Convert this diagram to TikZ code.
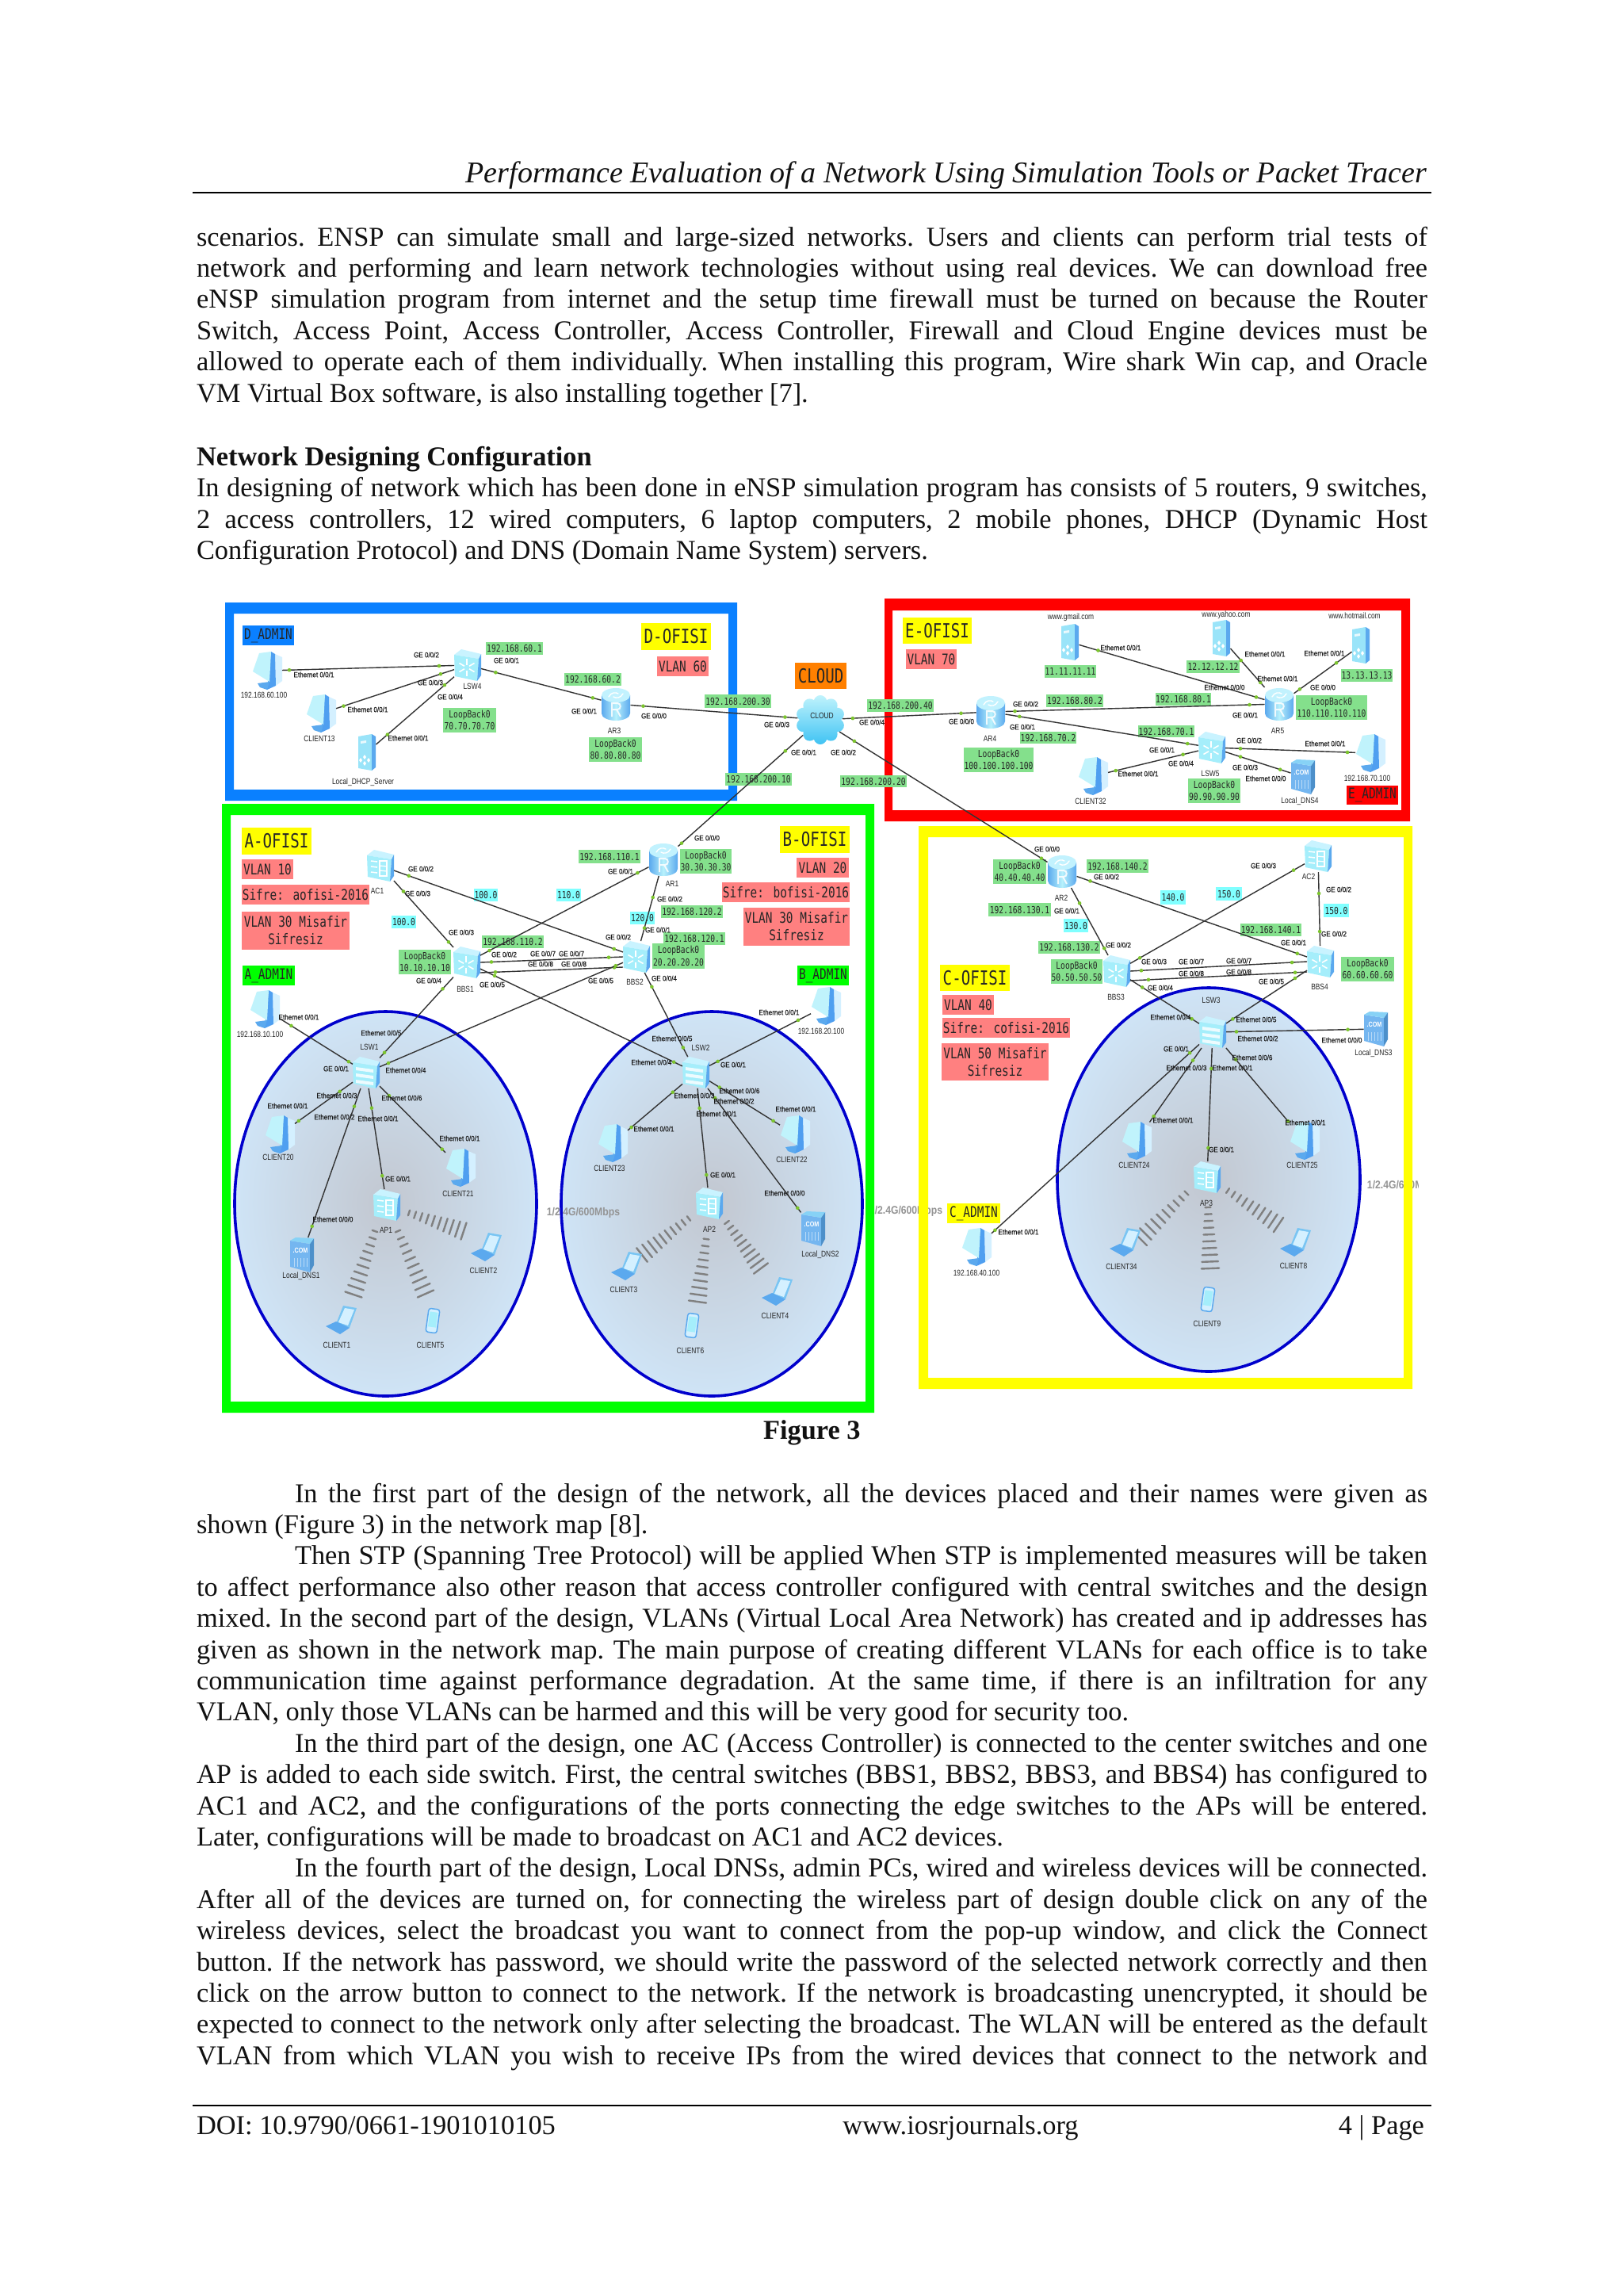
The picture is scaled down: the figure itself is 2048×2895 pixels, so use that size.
\documentclass[tikz,border=0pt]{standalone}
\usepackage{fontspec}
\usetikzlibrary{calc,shapes.symbols}
\setmainfont{Liberation Serif}
\newfontfamily\monof[FakeStretch=0.78]{DejaVu Sans Mono}
\newfontfamily\portf[FakeStretch=0.88,FakeBold=0.25]{Liberation Sans}
\newfontfamily\devf[FakeStretch=0.8]{Liberation Sans}
\newfontfamily\grayf[FakeStretch=0.87]{Liberation Sans}
\definecolor{inktext}{HTML}{111111}
\definecolor{fblue}{HTML}{0A80FF}
\definecolor{fred}{HTML}{FF0000}
\definecolor{fgreen}{HTML}{00FF00}
\definecolor{fyellow}{HTML}{FFFF00}
\definecolor{bgreen}{HTML}{84E08C}
\definecolor{bsalmon}{HTML}{FF8080}
\definecolor{bcyan}{HTML}{80FFFF}
\definecolor{borange}{HTML}{FF8000}
\definecolor{lightface}{HTML}{C9F3FF}
\definecolor{frontface}{HTML}{A5EEFB}
\definecolor{sideface}{HTML}{5BA9EE}
\definecolor{darkblue}{HTML}{4F9FF0}
\definecolor{paleface}{HTML}{D4F0FF}
\definecolor{linkc}{HTML}{333333}
\definecolor{dotc}{HTML}{7CC42E}
\definecolor{ellin}{HTML}{C2C7D0}
\definecolor{ellout}{HTML}{CFE4F6}
\newcommand\smallbox{\monof\fontsize{12.35}{15.5}\selectfont}
\newcommand\midbox{\monof\fontsize{18.5}{22}\selectfont}
\newcommand\bigbox{\monof\fontsize{24.5}{28}\selectfont}
\tikzset{
 bodytext/.style={inner sep=0pt,outer sep=0pt,anchor=base west,text=inktext,font=\fontsize{34.4}{39}\selectfont\frenchspacing},
 gbox/.style={fill=bgreen,inner sep=0pt,align=center,font=\smallbox,text=black!85},
 cbox/.style={fill=bcyan,inner sep=0pt,align=center,font=\smallbox,text=black!85},
 sbox/.style={fill=bsalmon,inner sep=0pt,align=center,font=\midbox,text=black!85},
 ybox/.style={fill=fyellow,inner sep=0pt,align=center,font=\bigbox,text=black!85},
 obox/.style={fill=borange,inner sep=0pt,align=center,font=\bigbox,text=black!85},
 abox/.style={inner sep=0pt,align=center,font=\midbox,text=black!85},
 portlabel/.style={inner sep=0pt,text=black!90,font=\portf\fontsize{9.2}{10}\selectfont},
 devlabel/.style={inner sep=0pt,text=black!85,font=\devf\fontsize{10.5}{11}\selectfont},
 speedlabel/.style={inner sep=0pt,text=black!42,font=\grayf\bfseries\fontsize{14}{15}\selectfont},
 iconbox/.style={inner sep=0pt,outer sep=0pt,draw=none,fill=none},
 link/.style={draw=linkc,line width=1.4pt},
 portdot/.style={fill=dotc},
 wifibar/.style={draw=black!50,line width=2.4pt,line cap=round},
 ring/.style={draw=blue!80!black,line width=3.6pt},
 ellfill/.style={inner color=ellin,outer color=ellout},
}
\newcounter{nn}
\newcommand\jl[3]{\stepcounter{nn}\pgfmathsetmacro\jw{1801-#1}\node[bodytext] (n\thenn) at (#1,#2) {\makebox[\jw pt][s]{#3}};}
\newcommand\pline[3]{\stepcounter{nn}\node[bodytext] (n\thenn) at (#1,#2) {#3};}
\newcommand\bx[6]{\stepcounter{nn}\pgfmathsetmacro\bw{#4-#2}\pgfmathsetmacro\bh{#5-#3}\pgfmathsetmacro\bcx{(#2+#4)/2}\pgfmathsetmacro\bcy{(#3+#5)/2}\node[#1,minimum width=\bw pt,minimum height=\bh pt] (n\thenn) at (\bcx,\bcy) {#6};}
\newcommand\portl[3]{\stepcounter{nn}\node[portlabel] (n\thenn) at (#1,#2) {#3};}
\newcommand\devl[3]{\stepcounter{nn}\node[devlabel] (n\thenn) at (#1,#2) {#3};}
\newcommand\lnk[4]{\draw[link] (#1) -- (#2) coordinate[pos=0] (ls) coordinate[pos=1] (le);
 \fill[portdot] ($(ls)!#3pt!(le)$) circle (2.3);
 \fill[portdot] ($(le)!#4pt!(ls)$) circle (2.3);}
\newcommand\wifibars[4]{\coordinate (wa) at (#1,#2);\coordinate (wb) at (#3,#4);\coordinate (wc) at ($(wa)!1.5!(wb)$);
 \foreach \i in {0,...,9}{\pgfmathsetmacro\wh{3.5+0.85*\i}\pgfmathsetmacro\wt{\i/9}
  \coordinate (wp) at ($(wa)!\wt!(wb)$);
  \draw[wifibar] ($(wp)!\wh pt!90:(wc)$) -- ($(wp)!\wh pt!-90:(wc)$);}}
% icons
\newcommand\pcicon[3]{\node[iconbox,minimum width=38pt,minimum height=47pt] (#1) at (#2,#3) {};
 \begin{scope}[shift={(#2,#3)}]
 \fill[paleface] (10,-21)--(19,-17)--(19,13)--(11,19)--cycle;
 \fill[darkblue] (5,-24)--(10,-21)--(11,19)--(0,24)--cycle;
 \fill[frontface!70!white] (-18,1)--(-10,-22)--(5,-24)--(3,14)--cycle;
 \fill[sideface] (-12,16)--(3,14)--(0,24)--(-9,21)--cycle;
 \end{scope}}
\newcommand\cubebase{\fill[lightface] (-17,-13)--(-8,-20)--(17,-14)--(14,-8)--cycle;
 \fill[frontface] (-17,-13)--(14,-8)--(12,20)--(-16,14)--cycle;
 \fill[sideface] (14,-8)--(17,-14)--(17,13)--(12,20)--cycle;}
\newcommand\swicon[3]{\node[iconbox,minimum width=34pt,minimum height=40pt] (#1) at (#2,#3) {};
 \begin{scope}[shift={(#2,#3)}]\cubebase
 \foreach \a in {30,90,150,210,270,330}{\draw[white,line width=1.6pt] ([shift={(\a:3.5pt)}]-1,3) -- ([shift={(\a:11pt)}]-1,3);}
 \end{scope}}
\newcommand\stackicon[3]{\node[iconbox,minimum width=34pt,minimum height=40pt] (#1) at (#2,#3) {};
 \begin{scope}[shift={(#2,#3)}]\cubebase
 \foreach \d in {0,8,16}{\fill[white,opacity=.8] (-13,-7+\d)--(9,-4+\d)--(9,0+\d)--(-13,-3+\d)--cycle;}
 \end{scope}}
\newcommand\acicon[3]{\node[iconbox,minimum width=34pt,minimum height=40pt] (#1) at (#2,#3) {};
 \begin{scope}[shift={(#2,#3)}]\cubebase
 \foreach \d in {-6,1,8}{\draw[white,line width=1.5pt] (-12,\d) -- (-4,\d+1);}
 \draw[white,line width=1.5pt] (-1,-6) rectangle (8,13);
 \draw[white,line width=1.2pt] (-1,0) -- (8,1) (-1,6) -- (8,7);
 \end{scope}}
\newcommand\routericon[3]{\node[iconbox,minimum width=37pt,minimum height=42pt] (#1) at (#2,#3) {};
 \begin{scope}[shift={(#2,#3)}]
 \shade[left color=sideface,right color=sideface,middle color=frontface!80!white] (-18,-11) -- (-18,12) arc[start angle=180,end angle=360,x radius=18pt,y radius=9pt] -- (18,-11) -- cycle;
 \fill[lightface!80!frontface] (0,-11) ellipse [x radius=18pt,y radius=9pt];
 \draw[white,line width=1.4pt,line cap=round] (-9,-9) .. controls (-6,-15) and (0,-15) .. (3,-13) (9,-13) .. controls (6,-7) and (0,-7) .. (-3,-9);
 \draw[white,line width=2pt,opacity=.85] (-5,16)--(-5,-1)--(2,-1) .. controls (7,-1) and (7,7) .. (2,7)--(-5,7) (1,7)--(6,16);
 \end{scope}}
\newcommand\servericon[3]{\node[iconbox,minimum width=23pt,minimum height=46pt] (#1) at (#2,#3) {};
 \begin{scope}[shift={(#2,#3)}]
 \fill[frontface!85!sideface] (-11,-20)--(6,-23)--(6,23)--(-11,20)--cycle;
 \fill[sideface] (6,-23)--(11,-20)--(11,19)--(6,23)--cycle;
 \fill[white,opacity=.8] (-8,-14)--(-1,-15)--(-1,-12)--(-8,-11)--cycle;
 \fill[white] (-3,3)--(-1,6)--(-3,9)--(-5,6)--cycle (-3,11)--(-1,14)--(-3,17)--(-5,14)--cycle (-8,7)--(-6,10)--(-8,13)--(-10,10)--cycle (2,7)--(4,10)--(2,13)--(0,10)--cycle;
 \end{scope}}
\newcommand\dnsicon[3]{\node[iconbox,minimum width=31pt,minimum height=44pt] (#1) at (#2,#3) {};
 \begin{scope}[shift={(#2,#3)}]
 \fill[sideface!85!white] (-15,-18)--(10,-14)--(10,22)--(-15,15)--cycle;
 \fill[sideface!85!black] (10,-14)--(15,-21)--(15,13)--(10,22)--cycle;
 \fill[frontface!60!sideface] (-15,-18)--(-8,-22)--(15,-21)--(10,-14)--cycle;
 \node[inner sep=0pt,text=white,font=\devf\bfseries\fontsize{9}{10}\selectfont] (#1com) at (-2,-6) {.COM};
 \foreach \d in {-10,-6,-2,2,6}{\draw[white,opacity=.5,line width=1pt] (\d,4) -- (\d,15);}
 \end{scope}}
\newcommand\laptopicon[3]{\node[iconbox,minimum width=40pt,minimum height=38pt] (#1) at (#2,#3) {};
 \begin{scope}[shift={(#2,#3)}]
 \fill[frontface!40!sideface] (3,-18)--(20,-15)--(11,10)--(-6,5)--cycle;
 \fill[paleface] (5,-15)--(17,-13)--(9,7)--(-3,3)--cycle;
 \fill[sideface] (-19,8)--(-6,2)--(11,10)--(-1,18)--cycle;
 \end{scope}}
\newcommand\phoneicon[3]{\node[iconbox,minimum width=17pt,minimum height=32pt] (#1) at (#2,#3) {};
 \begin{scope}[shift={(#2,#3)},rotate=-8]
 \draw[sideface,fill=paleface,line width=1.5pt,rounded corners=3pt] (-7,-15) rectangle (7,15);
 \fill[frontface] (-5,-11) rectangle (5,8);
 \end{scope}}
\begin{document}
\begin{tikzpicture}[x=1pt,y=-1pt]
\useasboundingbox (0,0) rectangle (2048,2895);
\fill[white] (0,0) rectangle (2048,2895);
% ---------- page text
\stepcounter{nn}\node[bodytext,anchor=base east,font=\fontsize{38}{41}\selectfont\itshape] (n\thenn) at (1800,231) {Performance Evaluation of a Network Using Simulation Tools or Packet Tracer};
\draw[line width=2pt,black] (243,243) -- (1806,243);
\jl{248}{310}{scenarios. ENSP can simulate small and large-sized networks. Users and clients can perform trial tests of}
\jl{248}{349.4}{network and performing and learn network technologies without using real devices. We can download free}
\jl{248}{388.8}{eNSP simulation program from internet and the setup time firewall must be turned on because the Router}
\jl{248}{428.2}{Switch, Access Point, Access Controller, Access Controller, Firewall and Cloud Engine devices must be}
\jl{248}{467.6}{allowed to operate each of them individually. When installing this program, Wire shark Win cap, and Oracle}
\pline{248}{507}{VM Virtual Box software, is also installing together [7].}
\pline{248}{587}{\bfseries Network Designing Configuration}
\jl{248}{626.6}{In designing of network which has been done in eNSP simulation program has consists of 5 routers, 9 switches,}
\jl{248}{666}{2 access controllers, 12 wired computers, 6 laptop computers, 2 mobile phones, DHCP (Dynamic Host}
\pline{248}{705.6}{Configuration Protocol) and DNS (Domain Name System) servers.}
\pline{963}{1815}{\bfseries Figure 3}
\jl{372}{1895}{In the first part of the design of the network, all the devices placed and their names were given as}
\pline{248}{1934.4}{shown (Figure 3) in the network map [8].}
\jl{372}{1973.8}{Then STP (Spanning Tree Protocol) will be applied When STP is implemented measures will be taken}
\jl{248}{2013.2}{to affect performance also other reason that access controller configured with central switches and the design}
\jl{248}{2052.6}{mixed. In the second part of the design, VLANs (Virtual Local Area Network) has created and ip addresses has}
\jl{248}{2092}{given as shown in the network map. The main purpose of creating different VLANs for each office is to take}
\jl{248}{2131.4}{communication time against performance degradation. At the same time, if there is an infiltration for any}
\pline{248}{2170.8}{VLAN, only those VLANs can be harmed and this will be very good for security too.}
\jl{372}{2210.2}{In the third part of the design, one AC (Access Controller) is connected to the center switches and one}
\jl{248}{2249.6}{AP is added to each side switch. First, the central switches (BBS1, BBS2, BBS3, and BBS4) has configured to}
\jl{248}{2289}{AC1 and AC2, and the configurations of the ports connecting the edge switches to the APs will be entered.}
\pline{248}{2328.4}{Later, configurations will be made to broadcast on AC1 and AC2 devices.}
\jl{372}{2367.8}{In the fourth part of the design, Local DNSs, admin PCs, wired and wireless devices will be connected.}
\jl{248}{2407.2}{After all of the devices are turned on, for connecting the wireless part of design double click on any of the}
\jl{248}{2446.6}{wireless devices, select the broadcast you want to connect from the pop-up window, and click the Connect}
\jl{248}{2486}{button. If the network has password, we should write the password of the selected network correctly and then}
\jl{248}{2525.4}{click on the arrow button to connect to the network. If the network is broadcasting unencrypted, it should be}
\jl{248}{2564.8}{expected to connect to the network only after selecting the broadcast. The WLAN will be entered as the default}
\jl{248}{2604.2}{VLAN from which VLAN you wish to receive IPs from the wired devices that connect to the network and}
\draw[line width=2pt,black] (243,2656) -- (1806,2656);
\pline{248}{2692}{DOI: 10.9790/0661-1901010105}
\stepcounter{nn}\node[bodytext,anchor=base] (n\thenn) at (1212,2692) {www.iosrjournals.org};
\stepcounter{nn}\node[bodytext,anchor=base east] (n\thenn) at (1797,2692) {4 | Page};
% ---------- speed labels (under the frames)
\stepcounter{nn}\node[speedlabel] (n\thenn) at (1143,1528) {1/2.4G/600Mbps};
\begin{scope}
\clip (1700,1480) rectangle (1789,1515);
\stepcounter{nn}\node[speedlabel] (n\thenn) at (1771,1496) {1/2.4G/600Mbps};
\end{scope}
% ---------- frames
\fill[fblue,even odd rule] (284,760) rectangle (930,1010) (295,774) rectangle (919,996);
\fill[fred,even odd rule] (1116,755) rectangle (1779,1036) (1126,770) rectangle (1768,1022);
\fill[fgreen,even odd rule] (280,1014) rectangle (1103,1782) (291,1028) rectangle (1092,1768);
\fill[fyellow,even odd rule] (1159,1042) rectangle (1782,1752) (1171,1056) rectangle (1771,1738);
% ---------- coverage ellipses
\shade[ellfill] (486.5,1518.5) ellipse [x radius=190.5pt,y radius=242.5pt];
\draw[ring] (486.5,1518.5) ellipse [x radius=190.5pt,y radius=242.5pt];
\shade[ellfill] (898,1518.5) ellipse [x radius=190pt,y radius=242.5pt];
\stepcounter{nn}\node[speedlabel] (n\thenn) at (736,1530) {1/2.4G/600Mbps};
\draw[ring] (898,1518.5) ellipse [x radius=190pt,y radius=242.5pt];
\shade[ellfill] (1525,1488) ellipse [x radius=191pt,y radius=242pt];
\draw[ring] (1525,1488) ellipse [x radius=191pt,y radius=242pt];
% ---------- coloured boxes
\bx{abox,fill=fblue}{306}{789}{371}{814}{D\_ADMIN}
\bx{ybox}{809}{786}{897}{820}{D-OFISI}
\bx{sbox}{829}{828}{894}{853}{VLAN 60}
\bx{gbox}{613}{810}{685}{826}{192.168.60.1}
\bx{gbox}{712}{849}{784}{865}{192.168.60.2}
\bx{gbox}{559}{893}{626}{924}{LoopBack0\\70.70.70.70}
\bx{gbox}{743}{930}{810}{961}{LoopBack0\\80.80.80.80}
\bx{gbox}{889}{876}{973}{893}{192.168.200.30}
\bx{obox}{1003}{836}{1068}{869}{CLOUD}
\bx{gbox}{1094}{882}{1178}{898}{192.168.200.40}
\bx{gbox}{915}{975}{999}{991}{192.168.200.10}
\bx{gbox}{1060}{978}{1144}{993}{192.168.200.20}
\bx{ybox}{1139}{779}{1226}{812}{E-OFISI}
\bx{sbox}{1143}{819}{1207}{844}{VLAN 70}
\bx{gbox}{1318}{839}{1383}{855}{11.11.11.11}
\bx{gbox}{1497}{833}{1564}{849}{12.12.12.12}
\bx{gbox}{1692}{844}{1757}{860}{13.13.13.13}
\bx{gbox}{1320}{876}{1392}{892}{192.168.80.2}
\bx{gbox}{1458}{874}{1528}{890}{192.168.80.1}
\bx{gbox}{1635}{877}{1725}{908}{LoopBack0\\110.110.110.110}
\bx{gbox}{1436}{915}{1507}{930}{192.168.70.1}
\bx{gbox}{1287}{923}{1358}{938}{192.168.70.2}
\bx{gbox}{1216}{943}{1304}{974}{LoopBack0\\100.100.100.100}
\bx{gbox}{1499}{982}{1565}{1013}{LoopBack0\\90.90.90.90}
\bx{abox,fill=fred}{1699}{991}{1764}{1015}{E\_ADMIN}
\bx{ybox}{305}{1044}{393}{1078}{A-OFISI}
\bx{sbox}{305}{1084}{370}{1109}{VLAN 10}
\bx{sbox}{305}{1116}{466}{1141}{Sifre: aofisi-2016}
\bx{sbox}{305}{1150}{441}{1198}{VLAN 30 Misafir\\Sifresiz}
\bx{abox,fill=fgreen}{306}{1218}{372}{1243}{A\_ADMIN}
\bx{ybox}{984}{1042}{1072}{1076}{B-OFISI}
\bx{sbox}{1005}{1082}{1071}{1107}{VLAN 20}
\bx{sbox}{911}{1113}{1072}{1138}{Sifre: bofisi-2016}
\bx{sbox}{938}{1145}{1072}{1193}{VLAN 30 Misafir\\Sifresiz}
\bx{abox,fill=fgreen}{1006}{1218}{1071}{1243}{B\_ADMIN}
\bx{gbox}{730}{1072}{808}{1089}{192.168.110.1}
\bx{gbox}{858}{1071}{923}{1102}{LoopBack0\\30.30.30.30}
\bx{gbox}{834}{1142}{912}{1158}{192.168.120.2}
\bx{gbox}{837}{1176}{915}{1192}{192.168.120.1}
\bx{gbox}{608}{1180}{686}{1196}{192.168.110.2}
\bx{gbox}{503}{1198}{569}{1229}{LoopBack0\\10.10.10.10}
\bx{gbox}{823}{1190}{889}{1222}{LoopBack0\\20.20.20.20}
\bx{cbox}{598}{1121}{628}{1137}{100.0}
\bx{cbox}{702}{1121}{733}{1137}{110.0}
\bx{cbox}{494}{1155}{525}{1171}{100.0}
\bx{cbox}{795}{1150}{826}{1166}{120.0}
\bx{gbox}{1253}{1084}{1320}{1115}{LoopBack0\\40.40.40.40}
\bx{gbox}{1371}{1084}{1449}{1101}{192.168.140.2}
\bx{gbox}{1247}{1139}{1326}{1156}{192.168.130.1}
\bx{cbox}{1464}{1123}{1496}{1141}{140.0}
\bx{cbox}{1534}{1119}{1567}{1136}{150.0}
\bx{cbox}{1670}{1140}{1702}{1157}{150.0}
\bx{cbox}{1342}{1159}{1373}{1176}{130.0}
\bx{gbox}{1565}{1165}{1642}{1181}{192.168.140.1}
\bx{gbox}{1310}{1187}{1388}{1203}{192.168.130.2}
\bx{gbox}{1326}{1210}{1391}{1241}{LoopBack0\\50.50.50.50}
\bx{gbox}{1692}{1207}{1759}{1238}{LoopBack0\\60.60.60.60}
\bx{ybox}{1186}{1217}{1274}{1250}{C-OFISI}
\bx{sbox}{1189}{1255}{1254}{1280}{VLAN 40}
\bx{sbox}{1189}{1284}{1350}{1309}{Sifre: cofisi-2016}
\bx{sbox}{1188}{1316}{1323}{1363}{VLAN 50 Misafir\\Sifresiz}
\bx{abox,fill=fyellow}{1195}{1518}{1262}{1543}{C\_ADMIN}
% ---------- wireless bars
\wifibars{516}{1530}{585}{1553}
\wifibars{502}{1553}{537}{1632}
\wifibars{473}{1553}{446}{1633}
\wifibars{869}{1537}{810}{1583}
\wifibars{891}{1563}{880}{1642}
\wifibars{917}{1542}{960}{1600}
\wifibars{1497}{1505}{1439}{1563}
\wifibars{1524}{1523}{1527}{1600}
\wifibars{1549}{1502}{1613}{1545}
% ---------- devices
\node[cloud,cloud puffs=10,cloud puff arc=150,aspect=1,minimum width=62pt,minimum height=62pt,inner sep=0pt,top color=frontface!70!white,bottom color=sideface!70!cyan,draw=none] (CLOUD) at (1035,908) {};
\pcicon{PCD}{337}{846}
\pcicon{C13}{405}{900}
\servericon{DHCP}{463}{949}
\swicon{LSW4}{590}{839}
\routericon{AR3}{777}{888}
\servericon{GMAIL}{1350}{810}
\servericon{YAHOO}{1541}{805}
\servericon{HOTMAIL}{1717}{814}
\routericon{AR4}{1250}{898}
\routericon{AR5}{1614}{888}
\swicon{LSW5}{1529}{943}
\pcicon{C32}{1379}{979}
\dnsicon{DNS4}{1644}{980}
\pcicon{PCE}{1729}{950}
\pcicon{PCA}{334}{1273}
\pcicon{PCB}{1042}{1269}
\acicon{AC1}{480}{1092}
\routericon{AR1}{837}{1084}
\swicon{BBS1}{589}{1214}
\swicon{BBS2}{803}{1207}
\stackicon{LSW1}{462}{1353}
\stackicon{LSW2}{878}{1353}
\pcicon{C20}{353}{1431}
\pcicon{C21}{581}{1473}
\acicon{AP1}{488}{1520}
\dnsicon{DNS1}{381}{1583}
\laptopicon{C2}{613}{1573}
\laptopicon{C1}{430}{1665}
\phoneicon{C5}{546}{1666}
\pcicon{C23}{773}{1442}
\pcicon{C22}{1003}{1431}
\acicon{AP2}{895}{1518}
\dnsicon{DNS2}{1026}{1550}
\laptopicon{C3}{790}{1597}
\laptopicon{C4}{980}{1629}
\phoneicon{C6}{873}{1672}
\routericon{AR2}{1340}{1099}
\acicon{AC2}{1663}{1080}
\swicon{BBS3}{1409}{1225}
\swicon{BBS4}{1666}{1213}
\stackicon{LSW3}{1530}{1302}
\dnsicon{DNS3}{1736}{1298}
\pcicon{PCC}{1232}{1573}
\pcicon{C24}{1434}{1439}
\pcicon{C25}{1646}{1439}
\acicon{AP3}{1523}{1485}
\laptopicon{C34}{1419}{1567}
\laptopicon{C8}{1634}{1567}
\phoneicon{C9}{1524}{1639}
% ---------- links
\lnk{PCD}{LSW4}{9}{19}
\lnk{C13}{LSW4}{10}{18}
\lnk{DHCP}{LSW4}{19}{16}
\lnk{LSW4}{AR3}{19}{11}
\lnk{AR3}{CLOUD}{16}{16}
\lnk{CLOUD}{AR4}{13}{19}
\lnk{CLOUD}{AR1}{30}{6}
\lnk{CLOUD}{AR2}{22}{9}
\lnk{AR4}{AR5}{12}{19}
\lnk{AR4}{LSW5}{18}{14}
\lnk{GMAIL}{AR5}{25}{11}
\lnk{YAHOO}{AR5}{20}{8}
\lnk{HOTMAIL}{AR5}{24}{9}
\lnk{LSW5}{PCE}{19}{10}
\lnk{LSW5}{DNS4}{20}{14}
\lnk{LSW5}{C32}{20}{10}
\lnk{AC1}{BBS1}{18}{9}
\lnk{AC1}{BBS2}{20}{12}
\lnk{AR1}{BBS1}{16}{13}
\lnk{AR1}{BBS2}{28}{17}
\lnk{BBS1.east}{BBS2.west}{14}{18}
\lnk{[yshift=-13pt]BBS1.east}{[yshift=-13pt]BBS2.west}{19}{11}
\lnk{BBS1}{LSW1}{20}{9}
\lnk{BBS2}{LSW1}{10}{12}
\lnk{BBS1}{LSW2}{20}{12}
\lnk{BBS2}{LSW2}{20}{13}
\lnk{PCA}{LSW1}{17}{6}
\lnk{PCB}{LSW2}{18}{12}
\lnk{LSW1}{C20}{20}{6}
\lnk{LSW1}{DNS1}{24}{15}
\lnk{LSW1}{AP1}{25}{17}
\lnk{LSW1}{C21}{17}{6}
\lnk{LSW2}{C23}{16}{6}
\lnk{LSW2}{AP2}{25}{16}
\lnk{LSW2}{DNS2}{15}{7}
\lnk{LSW2}{C22}{15}{10}
\lnk{AR2}{BBS4}{18}{13}
\lnk{AR2}{BBS3}{22}{10}
\lnk{AC2}{BBS3}{16}{14}
\lnk{AC2}{BBS4}{27}{18}
\lnk{BBS3.east}{BBS4.west}{14}{19}
\lnk{[yshift=-12pt]BBS3.east}{[yshift=-13pt]BBS4.west}{23}{15}
\lnk{BBS3}{LSW3}{18}{11}
\lnk{BBS4}{LSW3}{18}{10}
\lnk{LSW3}{DNS3}{13}{20}
\lnk{LSW3}{PCC}{16}{6}
\lnk{LSW3}{C24}{19}{9}
\lnk{LSW3}{AP3}{26}{17}
\lnk{LSW3}{C25}{19}{3}
% ---------- device labels
\devl{333}{877}{192.168.60.100}\devl{596}{866}{LSW4}\devl{403}{932}{CLIENT13}\devl{458}{987}{Local\_DHCP\_Server}\devl{775}{922}{AR3}
\devl{1037}{903}{CLOUD}
\devl{1351}{779}{www.gmail.com}\devl{1547}{776}{www.yahoo.com}\devl{1709}{777}{www.hotmail.com}
\devl{1249}{932}{AR4}\devl{1612}{922}{AR5}\devl{1527}{976}{LSW5}\devl{1376}{1011}{CLIENT32}\devl{1640}{1011}{Local\_DNS4}\devl{1725}{982}{192.168.70.100}
\devl{328}{1305}{192.168.10.100}\devl{1036}{1301}{192.168.20.100}\devl{476}{1124}{AC1}\devl{848}{1115}{AR1}\devl{587}{1248}{BBS1}\devl{801}{1239}{BBS2}
\devl{466}{1321}{LSW1}\devl{884}{1322}{LSW2}\devl{351}{1460}{CLIENT20}\devl{578}{1506}{CLIENT21}\devl{487}{1552}{AP1}\devl{380}{1610}{Local\_DNS1}\devl{610}{1603}{CLIENT2}\devl{425}{1697}{CLIENT1}\devl{543}{1697}{CLIENT5}
\devl{769}{1474}{CLIENT23}\devl{999}{1463}{CLIENT22}\devl{895}{1551}{AP2}\devl{1035}{1583}{Local\_DNS2}\devl{787}{1627}{CLIENT3}\devl{978}{1660}{CLIENT4}\devl{871}{1704}{CLIENT6}
\devl{1339}{1133}{AR2}\devl{1651}{1106}{AC2}\devl{1408}{1258}{BBS3}\devl{1665}{1245}{BBS4}\devl{1528}{1262}{LSW3}\devl{1733}{1329}{Local\_DNS3}
\devl{1232}{1606}{192.168.40.100}\devl{1431}{1470}{CLIENT24}\devl{1643}{1470}{CLIENT25}\devl{1522}{1518}{AP3}\devl{1415}{1598}{CLIENT34}\devl{1632}{1597}{CLIENT8}\devl{1523}{1670}{CLIENT9}
% ---------- port labels
\portl{538}{826}{GE 0/0/2}\portl{396}{851}{Ethernet 0/0/1}\portl{543}{861}{GE 0/0/3}\portl{464}{895}{Ethernet 0/0/1}\portl{568}{879}{GE 0/0/4}\portl{515}{931}{Ethernet 0/0/1}\portl{639}{833}{GE 0/0/1}\portl{737}{897}{GE 0/0/1}\portl{825}{903}{GE 0/0/0}
\portl{980}{914}{GE 0/0/3}\portl{1100}{911}{GE 0/0/4}\portl{1014}{949}{GE 0/0/1}\portl{1064}{949}{GE 0/0/2}\portl{1213}{910}{GE 0/0/0}\portl{1294}{888}{GE 0/0/2}\portl{1290}{917}{GE 0/0/1}
\portl{1414}{817}{Ethernet 0/0/1}\portl{1596}{825}{Ethernet 0/0/1}\portl{1671}{824}{Ethernet 0/0/1}\portl{1612}{856}{Ethernet 0/0/1}\portl{1545}{867}{Ethernet 0/0/0}\portl{1669}{867}{GE 0/0/0}\portl{1571}{902}{GE 0/0/1}\portl{1576}{934}{GE 0/0/2}\portl{1466}{946}{GE 0/0/1}\portl{1490}{963}{GE 0/0/4}\portl{1571}{968}{GE 0/0/3}\portl{1672}{938}{Ethernet 0/0/1}\portl{1597}{982}{Ethernet 0/0/0}\portl{1436}{976}{Ethernet 0/0/1}
\portl{892}{1057}{GE 0/0/0}\portl{783}{1099}{GE 0/0/1}\portl{845}{1134}{GE 0/0/2}\portl{830}{1173}{GE 0/0/1}\portl{531}{1096}{GE 0/0/2}\portl{527}{1127}{GE 0/0/3}\portl{582}{1176}{GE 0/0/3}\portl{636}{1204}{GE 0/0/2}\portl{685}{1203}{GE 0/0/7}\portl{721}{1203}{GE 0/0/7}\portl{682}{1216}{GE 0/0/8}\portl{724}{1216}{GE 0/0/8}\portl{780}{1182}{GE 0/0/2}\portl{541}{1237}{GE 0/0/4}\portl{621}{1242}{GE 0/0/5}\portl{758}{1237}{GE 0/0/5}\portl{838}{1234}{GE 0/0/4}
\portl{377}{1283}{Ethernet 0/0/1}\portl{983}{1277}{Ethernet 0/0/1}
\portl{481}{1303}{Ethernet 0/0/5}\portl{424}{1348}{GE 0/0/1}\portl{512}{1350}{Ethernet 0/0/4}\portl{425}{1382}{Ethernet 0/0/3}\portl{507}{1385}{Ethernet 0/0/6}\portl{363}{1395}{Ethernet 0/0/1}\portl{422}{1409}{Ethernet 0/0/2}\portl{477}{1411}{Ethernet 0/0/1}\portl{580}{1436}{Ethernet 0/0/1}\portl{502}{1487}{GE 0/0/1}\portl{420}{1538}{Ethernet 0/0/0}
\portl{848}{1310}{Ethernet 0/0/5}\portl{822}{1340}{Ethernet 0/0/4}\portl{925}{1343}{GE 0/0/1}\portl{876}{1382}{Ethernet 0/0/3}\portl{933}{1376}{Ethernet 0/0/6}\portl{926}{1389}{Ethernet 0/0/2}\portl{1004}{1399}{Ethernet 0/0/1}\portl{904}{1405}{Ethernet 0/0/1}\portl{825}{1424}{Ethernet 0/0/1}\portl{912}{1482}{GE 0/0/1}\portl{990}{1505}{Ethernet 0/0/0}
\portl{1321}{1071}{GE 0/0/0}\portl{1396}{1106}{GE 0/0/2}\portl{1346}{1149}{GE 0/0/1}\portl{1594}{1092}{GE 0/0/3}\portl{1689}{1122}{GE 0/0/2}\portl{1683}{1178}{GE 0/0/2}\portl{1632}{1189}{GE 0/0/1}\portl{1411}{1192}{GE 0/0/2}\portl{1456}{1213}{GE 0/0/3}\portl{1503}{1213}{GE 0/0/7}\portl{1563}{1212}{GE 0/0/7}\portl{1503}{1228}{GE 0/0/8}\portl{1563}{1226}{GE 0/0/8}\portl{1604}{1238}{GE 0/0/5}\portl{1464}{1246}{GE 0/0/4}
\portl{1477}{1283}{Ethernet 0/0/4}\portl{1585}{1286}{Ethernet 0/0/5}\portl{1587}{1310}{Ethernet 0/0/2}\portl{1693}{1312}{Ethernet 0/0/0}\portl{1484}{1323}{GE 0/0/1}\portl{1497}{1347}{Ethernet 0/0/3}\portl{1555}{1347}{Ethernet 0/0/1}\portl{1580}{1334}{Ethernet 0/0/6}
\portl{1285}{1554}{Ethernet 0/0/1}\portl{1480}{1413}{Ethernet 0/0/1}\portl{1647}{1416}{Ethernet 0/0/1}\portl{1541}{1450}{GE 0/0/1}
\end{tikzpicture}
\end{document}
